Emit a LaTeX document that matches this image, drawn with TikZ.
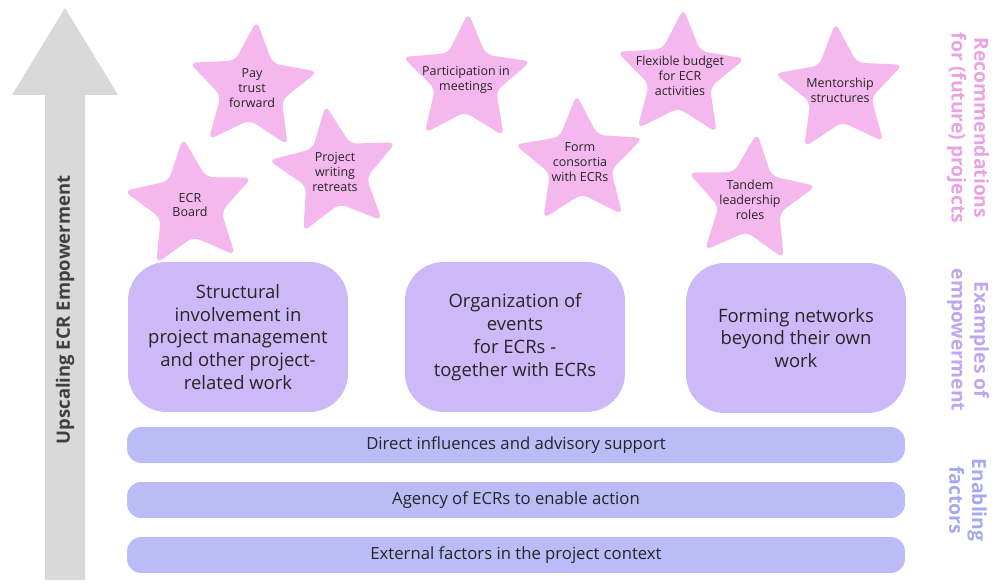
\documentclass[tikz,border=0pt]{standalone}
\usepackage{fontspec}
\setmainfont{Open Sans}
\usetikzlibrary{shapes.geometric,positioning}
\definecolor{starpink}{HTML}{F5B8EE}
\definecolor{boxpurple}{HTML}{CDB9F7}
\definecolor{barblue}{HTML}{BBBBF7}
\definecolor{arrowgray}{HTML}{D9D9D9}
\definecolor{labelpink}{HTML}{EBA2E4}
\definecolor{labelpurple}{HTML}{BEA6F0}
\definecolor{labelblue}{HTML}{A8A8F0}

\begin{document}
\begin{tikzpicture}[x=0.02cm,y=-0.02cm]
	\tikzstyle{every node}=[font=\fontsize{7.1}{8.4}\selectfont, align=center, text=black!85]
	\tikzset{
		rec/.style={star, star points=5, star point ratio=2.1, fill=starpink, minimum size=2.7cm, rounded corners=4pt, inner sep=0pt},
		example/.style={fill=boxpurple, rounded corners=22pt, minimum width=4.4cm, minimum height=3.0cm, font=\fontsize{10.5}{13}\selectfont},
		factor/.style={fill=barblue, rounded corners=8pt, minimum width=15.56cm, minimum height=0.72cm, font=\fontsize{9.5}{11}\selectfont},
		side/.style={rotate=-90, font=\bfseries\fontsize{11}{13}\selectfont}
	}
	\useasboundingbox (0,0) rectangle (1000,587);
	% upscaling arrow
	\fill[arrowgray] (45,580) -- (45,95) -- (12,95) -- (65,8) -- (118,95) -- (85,95) -- (85,580) -- cycle;
	\node[rotate=90, font=\bfseries\fontsize{10.5}{12}\selectfont, text=black!75] (up) at (65,310) {Upscaling ECR Empowerment};
	% recommendations
	\node[rec, rotate=-4] (pay) at (252,88) {};
	\node (payT) at (pay) {Pay\\trust\\forward};
	\node[rec, rotate=6] (board) at (190,205) {};
	\node (boardT) at (board) {ECR\\Board};
	\node[rec, rotate=8] (retreat) at (335,172) {};
	\node (retreatT) at (retreat) {Project\\writing\\retreats};
	\node[rec, rotate=-2] (meet) at (466,80) {};
	\node (meetT) at (meet) {Participation in\\meetings};
	\node[rec, rotate=3] (cons) at (580,162) {};
	\node (consT) at (cons) {Form\\consortia\\with ECRs};
	\node[rec, rotate=-3] (budget) at (680,76) {};
	\node (budgetT) at (budget) {Flexible budget\\for ECR\\activities};
	\node[rec, rotate=4] (mentor) at (840,90) {};
	\node (mentorT) at (mentor) {Mentorship\\structures};
	\node[rec, rotate=-6] (tandem) at (750,200) {};
	\node (tandemT) at (tandem) {Tandem\\leadership\\roles};
	% examples
	\node[example] (struct) at (238,337) {Structural\\involvement in\\project management\\and other project-\\related work};
	\node[example] (events) at (515,337) {Organization of\\events\\for ECRs -\\together with ECRs};
	\node[example] (networks) at (796,338) {Forming networks\\beyond their own\\work};
	% enabling factors
	\node[factor] (direct) at (516,445) {Direct influences and advisory support};
	\node[factor] (agency) at (516,500) {Agency of ECRs to enable action};
	\node[factor] (external) at (516,555) {External factors in the project context};
	% side labels
	\node[side, text=labelpink] (recL) at (968,128) {Recommendations\\for (future) projects};
	\node[side, text=labelpurple] (exL) at (968,340) {Examples of\\empowerment};
	\node[side, text=labelblue] (enL) at (968,500) {Enabling\\factors};
\end{tikzpicture}
\end{document}
